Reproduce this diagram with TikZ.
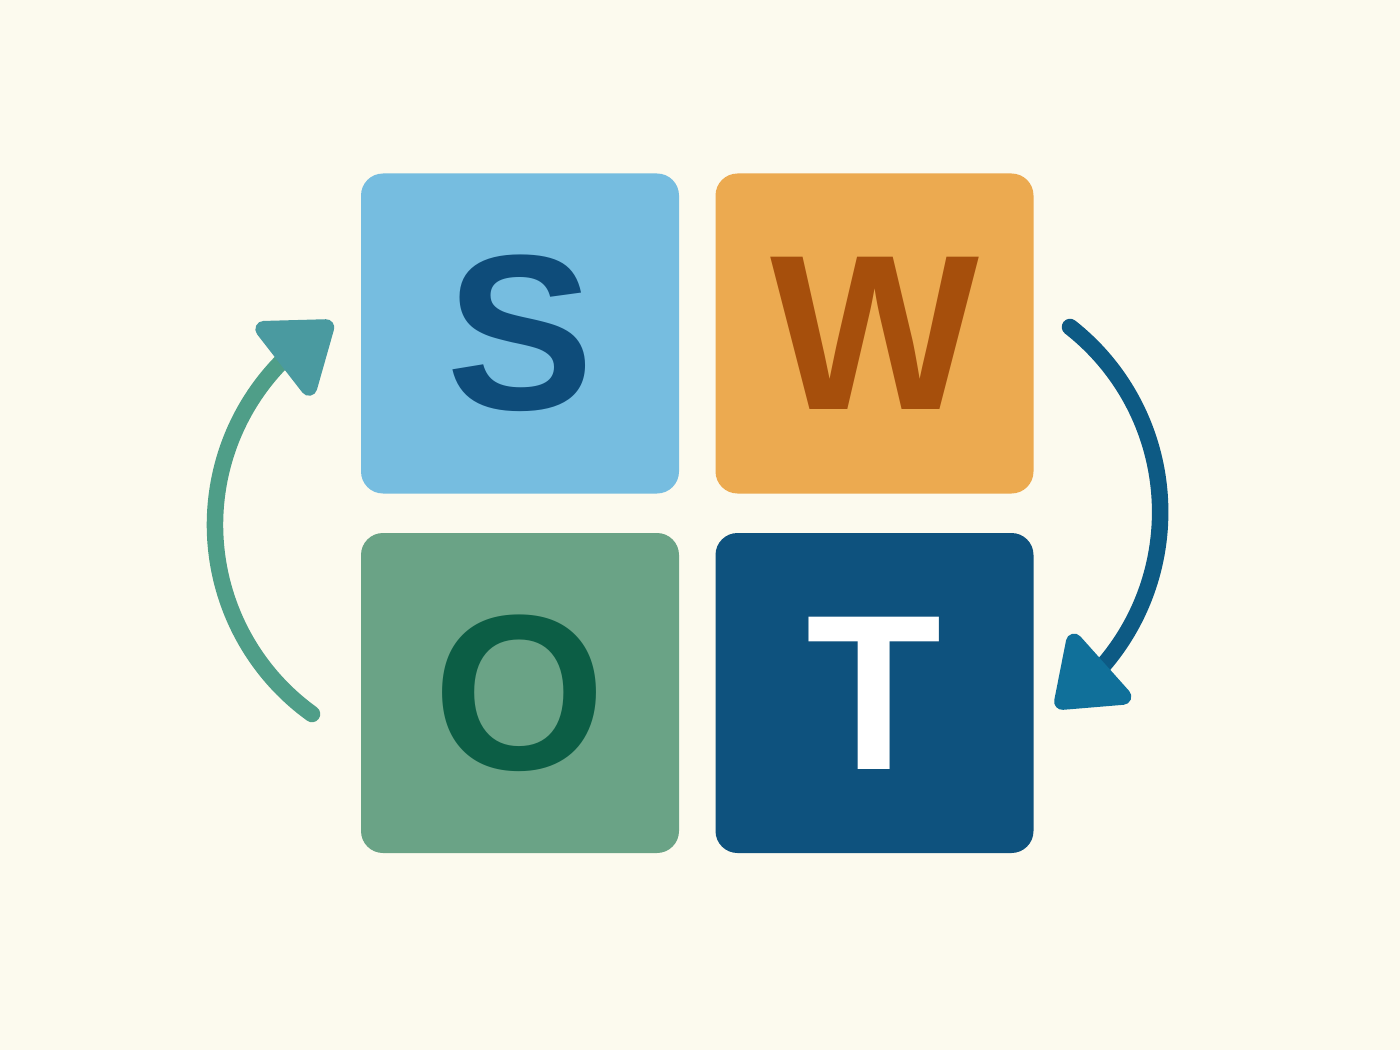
\documentclass[tikz,border=0pt]{standalone}
\usepackage{fontspec}
\setmainfont{Liberation Sans}
\usetikzlibrary{arrows.meta,bending}

\definecolor{paper}{HTML}{FCFAEE}
\definecolor{sfill}{HTML}{76BDE0}
\definecolor{stext}{HTML}{0E4C7A}
\definecolor{wfill}{HTML}{ECAA50}
\definecolor{wtext}{HTML}{A64F0C}
\definecolor{ofill}{HTML}{6AA386}
\definecolor{otext}{HTML}{0C5E45}
\definecolor{tfill}{HTML}{0E527E}
\definecolor{leftshaft}{HTML}{4F9E88}
\definecolor{lefthead}{HTML}{4A9AA0}
\definecolor{rightshaft}{HTML}{0D5A84}
\definecolor{righthead}{HTML}{10709A}

\tikzset{
    quad/.style={minimum width=3.18cm, minimum height=3.2cm, rounded corners=2.2mm,
        inner sep=0pt, font=\fontsize{63}{63}\selectfont\bfseries},
    cycle/.style={line width=0.165cm, line cap=round}
}

\begin{document}
\begin{tikzpicture}
            \fill[paper] (0,0) rectangle (14,10.5);
            \useasboundingbox (0,0) rectangle (14,10.5);

            % the four quadrants
            \foreach \name/\x/\y/\fc/\tc/\letter in {
                s/5.20/7.165/sfill/stext/S, w/8.745/7.165/wfill/wtext/W,
                o/5.20/3.57/ofill/otext/O, t/8.745/3.57/tfill/white/T}
                \node[quad, fill=\fc, text=\tc] (\name) at (\x,\y) {\letter};

            % loose ends of the two arcs
            \coordinate (o-out) at (3.12,3.36);
            \coordinate (w-out) at (10.70,7.23);

            % O -> S on the left
            \draw[cycle, leftshaft, -{Triangle[length=7.3mm, width=10.2mm, round, flex, color=lefthead]}]
                (o-out) arc[start angle=234.3, end angle=119.7, radius=2.33];
            % W -> T on the right
            \draw[cycle, rightshaft, -{Triangle[length=7.1mm, width=10.2mm, round, flex, color=righthead]}]
                (w-out) arc[start angle=51.95, end angle=-56.1, radius=2.35];
        \end{tikzpicture}
\end{document}
